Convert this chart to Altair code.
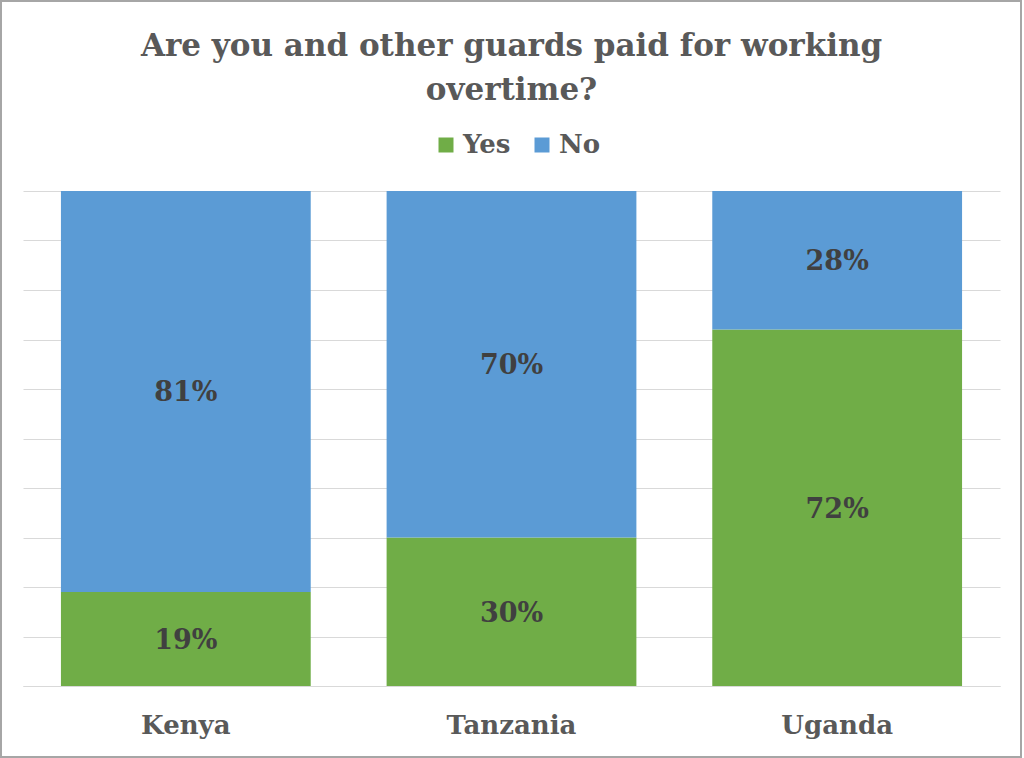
import altair as alt
import pandas as pd

countries = ["Kenya", "Tanzania", "Uganda"]
answers = ["Yes", "No"]
yes_values = [0.19, 0.30, 0.72]
no_values = [0.81, 0.70, 0.28]

rows = []
for c, y, n in zip(countries, yes_values, no_values):
    rows.append({"country": c, "answer": "Yes", "value": y, "ord": 0})
    rows.append({"country": c, "answer": "No", "value": n, "ord": 1})
df = pd.DataFrame(rows)

FONT = "DejaVu Serif"
GRAY = "#595959"

base = alt.Chart(df).transform_stack(
    stack="value", groupby=["country"], as_=["y0", "y1"],
    sort=[alt.SortField("ord", order="ascending")]
).transform_calculate(mid="(datum.y0 + datum.y1) / 2")

x_enc = alt.X("country:N", sort=countries,
              scale=alt.Scale(paddingInner=0.233, paddingOuter=0.1165),
              axis=alt.Axis(title=None, labelAngle=0, labelFont=FONT, labelFontSize=26,
                            labelFontWeight="bold", labelColor=GRAY, ticks=False,
                            domainColor="#d9d9d9", domainWidth=1, labelPadding=26, grid=False))

bars = base.mark_bar().encode(
    x=x_enc,
    y=alt.Y("y0:Q", scale=alt.Scale(domain=[0, 1]),
            axis=alt.Axis(title=None, labels=False, ticks=False, domain=False,
                          values=[i / 10 for i in range(11)], gridColor="#d9d9d9",
                          gridWidth=1)),
    y2="y1:Q",
    color=alt.Color("answer:N", sort=answers,
                    scale=alt.Scale(domain=answers, range=["#70ad47", "#5b9bd5"]),
                    legend=alt.Legend(title=None, orient="none", legendX=410, legendY=-59,
                                      direction="horizontal", symbolType="square",
                                      symbolSize=225, symbolStrokeWidth=0,
                                      labelFont=FONT, labelFontSize=26,
                                      labelFontWeight="bold", labelColor=GRAY,
                                      columnPadding=18, labelOffset=4, padding=0)),
)

labels = base.mark_text(font=FONT, fontSize=27, fontWeight="bold", color="#404040",
                        baseline="middle", align="center", dy=2).encode(
    x=alt.X("country:N", sort=countries),
    y=alt.Y("mid:Q"),
    text=alt.Text("value:Q", format=".0%"),
)

frame = alt.Chart(pd.DataFrame({"k": [0]})).mark_rect(
    filled=False, stroke="#a6a6a6", strokeWidth=2, clip=False
).encode(x=alt.value(-22), x2=alt.value(998), y=alt.value(-190), y2=alt.value(566))

chart = alt.layer(bars, labels, frame).properties(
    width=977, height=495,
    title=alt.Title(["Are you and other guards paid for working", "overtime?"],
                    font=FONT, fontSize=31, fontWeight="bold", color=GRAY,
                    anchor="middle", lineHeight=44, offset=-107),
    autosize=alt.AutoSizeParams(type="none"),
    padding={"left": 23, "top": 191, "right": 24, "bottom": 72},
).configure(background="white").configure_view(stroke=None)

chart.save("out.html", embed_options={"renderer": "svg", "actions": False})
